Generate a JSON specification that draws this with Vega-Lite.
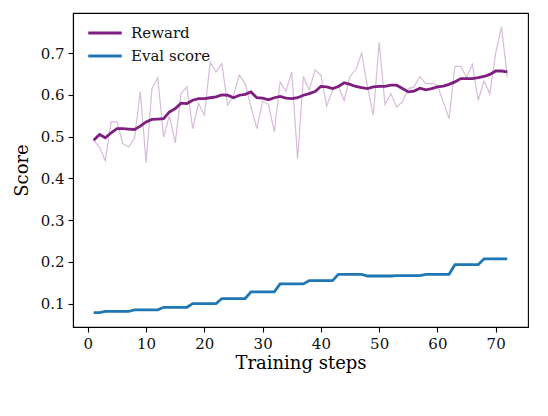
{
  "$schema": "https://vega.github.io/schema/vega-lite/v6.json",
  "width": 455,
  "height": 314,
  "autosize": {"type": "none"},
  "padding": {"left": 73, "top": 13, "right": 20, "bottom": 89},
  "background": "white",
  "config": {
    "font": "DejaVu Serif",
    "view": {"stroke": "black", "strokeWidth": 1.1},
    "axis": {
      "grid": false,
      "domainColor": "black",
      "domainWidth": 1.1,
      "tickColor": "black",
      "tickWidth": 1.1,
      "tickSize": 5,
      "labelFont": "DejaVu Serif",
      "labelFontSize": 15,
      "labelColor": "#111",
      "labelPadding": 4,
      "titleFont": "DejaVu Serif",
      "titleFontSize": 18,
      "titleFontWeight": "normal",
      "titleColor": "black"
    }
  },
  "data": {
    "values": [
      {"step": 1, "raw": 0.491, "smooth": 0.491, "eval": 0.078},
      {"step": 2, "raw": 0.475, "smooth": 0.505, "eval": 0.078},
      {"step": 3, "raw": 0.442, "smooth": 0.497, "eval": 0.081},
      {"step": 4, "raw": 0.535, "smooth": 0.509, "eval": 0.081},
      {"step": 5, "raw": 0.535, "smooth": 0.519, "eval": 0.081},
      {"step": 6, "raw": 0.483, "smooth": 0.519, "eval": 0.081},
      {"step": 7, "raw": 0.475, "smooth": 0.518, "eval": 0.081},
      {"step": 8, "raw": 0.495, "smooth": 0.517, "eval": 0.085},
      {"step": 9, "raw": 0.608, "smooth": 0.525, "eval": 0.085},
      {"step": 10, "raw": 0.437, "smooth": 0.535, "eval": 0.085},
      {"step": 11, "raw": 0.615, "smooth": 0.541, "eval": 0.085},
      {"step": 12, "raw": 0.641, "smooth": 0.542, "eval": 0.085},
      {"step": 13, "raw": 0.499, "smooth": 0.543, "eval": 0.091},
      {"step": 14, "raw": 0.55, "smooth": 0.559, "eval": 0.091},
      {"step": 15, "raw": 0.485, "smooth": 0.567, "eval": 0.091},
      {"step": 16, "raw": 0.603, "smooth": 0.58, "eval": 0.091},
      {"step": 17, "raw": 0.619, "smooth": 0.579, "eval": 0.091},
      {"step": 18, "raw": 0.519, "smooth": 0.587, "eval": 0.1},
      {"step": 19, "raw": 0.579, "smooth": 0.591, "eval": 0.1},
      {"step": 20, "raw": 0.551, "smooth": 0.591, "eval": 0.1},
      {"step": 21, "raw": 0.678, "smooth": 0.593, "eval": 0.1},
      {"step": 22, "raw": 0.655, "smooth": 0.595, "eval": 0.1},
      {"step": 23, "raw": 0.675, "smooth": 0.6, "eval": 0.112},
      {"step": 24, "raw": 0.575, "smooth": 0.599, "eval": 0.112},
      {"step": 25, "raw": 0.599, "smooth": 0.593, "eval": 0.112},
      {"step": 26, "raw": 0.647, "smooth": 0.599, "eval": 0.112},
      {"step": 27, "raw": 0.627, "smooth": 0.601, "eval": 0.112},
      {"step": 28, "raw": 0.571, "smooth": 0.607, "eval": 0.128},
      {"step": 29, "raw": 0.519, "smooth": 0.593, "eval": 0.128},
      {"step": 30, "raw": 0.585, "smooth": 0.592, "eval": 0.128},
      {"step": 31, "raw": 0.577, "smooth": 0.588, "eval": 0.128},
      {"step": 32, "raw": 0.511, "smooth": 0.593, "eval": 0.128},
      {"step": 33, "raw": 0.631, "smooth": 0.596, "eval": 0.147},
      {"step": 34, "raw": 0.609, "smooth": 0.592, "eval": 0.147},
      {"step": 35, "raw": 0.655, "smooth": 0.591, "eval": 0.147},
      {"step": 36, "raw": 0.447, "smooth": 0.593, "eval": 0.147},
      {"step": 37, "raw": 0.644, "smooth": 0.599, "eval": 0.147},
      {"step": 38, "raw": 0.611, "smooth": 0.603, "eval": 0.155},
      {"step": 39, "raw": 0.66, "smooth": 0.608, "eval": 0.155},
      {"step": 40, "raw": 0.647, "smooth": 0.62, "eval": 0.155},
      {"step": 41, "raw": 0.573, "smooth": 0.619, "eval": 0.155},
      {"step": 42, "raw": 0.611, "smooth": 0.615, "eval": 0.155},
      {"step": 43, "raw": 0.62, "smooth": 0.62, "eval": 0.17},
      {"step": 44, "raw": 0.587, "smooth": 0.629, "eval": 0.17},
      {"step": 45, "raw": 0.644, "smooth": 0.625, "eval": 0.17},
      {"step": 46, "raw": 0.66, "smooth": 0.62, "eval": 0.17},
      {"step": 47, "raw": 0.7, "smooth": 0.617, "eval": 0.17},
      {"step": 48, "raw": 0.619, "smooth": 0.615, "eval": 0.166},
      {"step": 49, "raw": 0.551, "smooth": 0.619, "eval": 0.166},
      {"step": 50, "raw": 0.726, "smooth": 0.62, "eval": 0.166},
      {"step": 51, "raw": 0.577, "smooth": 0.62, "eval": 0.166},
      {"step": 52, "raw": 0.603, "smooth": 0.623, "eval": 0.166},
      {"step": 53, "raw": 0.571, "smooth": 0.623, "eval": 0.167},
      {"step": 54, "raw": 0.583, "smooth": 0.615, "eval": 0.167},
      {"step": 55, "raw": 0.615, "smooth": 0.607, "eval": 0.167},
      {"step": 56, "raw": 0.619, "smooth": 0.609, "eval": 0.167},
      {"step": 57, "raw": 0.644, "smooth": 0.616, "eval": 0.167},
      {"step": 58, "raw": 0.627, "smooth": 0.612, "eval": 0.17},
      {"step": 59, "raw": 0.627, "smooth": 0.615, "eval": 0.17},
      {"step": 60, "raw": 0.623, "smooth": 0.619, "eval": 0.17},
      {"step": 61, "raw": 0.583, "smooth": 0.621, "eval": 0.17},
      {"step": 62, "raw": 0.543, "smooth": 0.625, "eval": 0.17},
      {"step": 63, "raw": 0.668, "smooth": 0.631, "eval": 0.193},
      {"step": 64, "raw": 0.668, "smooth": 0.639, "eval": 0.193},
      {"step": 65, "raw": 0.641, "smooth": 0.639, "eval": 0.193},
      {"step": 66, "raw": 0.673, "smooth": 0.639, "eval": 0.193},
      {"step": 67, "raw": 0.587, "smooth": 0.641, "eval": 0.193},
      {"step": 68, "raw": 0.633, "smooth": 0.644, "eval": 0.207},
      {"step": 69, "raw": 0.603, "smooth": 0.649, "eval": 0.207},
      {"step": 70, "raw": 0.7, "smooth": 0.657, "eval": 0.207},
      {"step": 71, "raw": 0.763, "smooth": 0.657, "eval": 0.207},
      {"step": 72, "raw": 0.643, "smooth": 0.655, "eval": 0.207}
    ]
  },
  "encoding": {
    "x": {
      "field": "step",
      "type": "quantitative",
      "scale": {"domain": [-2.55, 75.55], "nice": false, "zero": false},
      "axis": {"values": [0, 10, 20, 30, 40, 50, 60, 70], "title": "Training steps", "titlePadding": 3}
    }
  },
  "layer": [
    {
      "mark": {"type": "line", "color": "#7e1e80", "opacity": 0.3, "strokeWidth": 1.2},
      "encoding": {
        "y": {
          "field": "raw",
          "type": "quantitative",
          "scale": {"domain": [0.0438, 0.796], "nice": false, "zero": false},
          "axis": {"values": [0.1, 0.2, 0.3, 0.4, 0.5, 0.6, 0.7], "format": ".1f", "title": "Score", "titlePadding": 9}
        }
      }
    },
    {
      "mark": {"type": "line", "strokeWidth": 2.8},
      "encoding": {
        "y": {"field": "smooth", "type": "quantitative"},
        "color": {
          "datum": "Reward",
          "scale": {"domain": ["Reward", "Eval score"], "range": ["#7e1e80", "#1f77b4"]},
          "legend": {
            "orient": "none",
            "legendX": 22,
            "legendY": 10,
            "title": null,
            "symbolType": "M-2,0H2",
            "symbolSize": 280,
            "symbolStrokeWidth": 2.8,
            "labelFont": "DejaVu Serif",
            "labelFontSize": 15,
            "labelColor": "#111",
            "rowPadding": 5,
            "labelOffset": 16
          }
        }
      }
    },
    {
      "mark": {"type": "line", "strokeWidth": 2.8},
      "encoding": {
        "y": {"field": "eval", "type": "quantitative"},
        "color": {"datum": "Eval score"}
      }
    }
  ]
}
